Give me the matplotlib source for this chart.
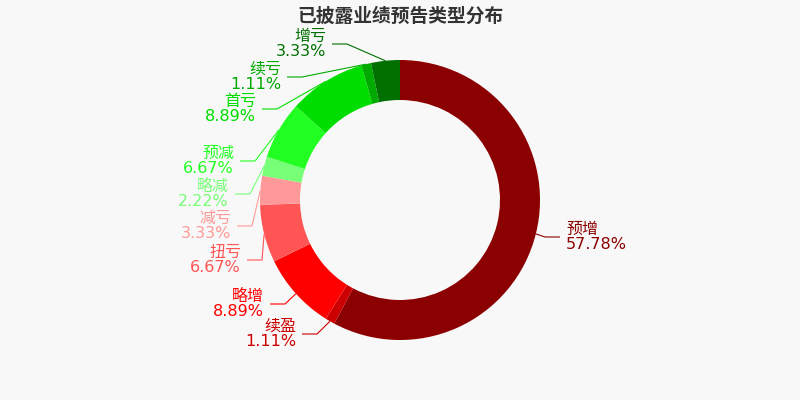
import matplotlib
matplotlib.use('Agg')
import matplotlib.pyplot as plt

# ---- data ----
categories = ['预增', '续盈', '略增', '扭亏', '减亏', '略减', '预减', '首亏', '续亏', '增亏']
counts = [52, 1, 8, 6, 3, 2, 6, 8, 1, 3]
colors = ['#8B0000', '#CC0000', '#FF0000', '#FF5555', '#FF9999',
          '#77FF77', '#22FF22', '#00DD00', '#00AA00', '#007000']
title = '已披露业绩预告类型分布'

# ---- layout (pixel space, y measured from top) ----
W, H = 800, 400
cx, cy_pix = 400, 200
R_out, ring_w = 140, 40
label_line_y = [237, 334, 304, 260, 226, 194, 161, 109, 77, 44]
label_elbow_x = [545, 317, 285, 262, 252, 250, 255, 277, 302, 347]
hlen, gap = 15, 6

fam = ['DejaVu Sans', 'Noto Sans CJK SC']

fig = plt.figure(figsize=(8, 4), dpi=100)
bg = '#f8f8f8'
fig.patch.set_facecolor(bg)
ax = fig.add_axes([0, 0, 1, 1])
ax.set_facecolor(bg)

cy = H - cy_pix
wedges, _ = ax.pie(counts, colors=colors, startangle=90, counterclock=False,
                   radius=R_out, center=(cx, cy),
                   wedgeprops=dict(width=ring_w, linewidth=0))
ax.set_xlim(0, W)
ax.set_ylim(0, H)
ax.set_aspect('equal')
ax.axis('off')

import numpy as np
total = sum(counts)
for i, w in enumerate(wedges):
    mid = np.deg2rad((w.theta1 + w.theta2) / 2.0)
    ax_x = cx + R_out * np.cos(mid)
    ax_y = cy + R_out * np.sin(mid)
    ey = H - label_line_y[i]
    ex = label_elbow_x[i]
    right = ex > cx
    hx = ex + hlen if right else ex - hlen
    col = colors[i]
    ax.plot([ax_x, ex, hx], [ax_y, ey, ey], color=col, lw=0.8,
            solid_capstyle='butt')
    pct = counts[i] / total * 100
    tx = hx + gap if right else hx - gap
    ax.text(tx, ey, f'{categories[i]}\n{pct:.2f}%', ha='left' if right else 'right',
            va='center', color=col, fontsize=11.5, family=fam, linespacing=1.05)

ax.text(W / 2, H - 16, title, ha='center', va='center', fontsize=13.5,
        fontweight='bold', color='#333333', family=['Noto Sans CJK SC', 'DejaVu Sans'])

fig.savefig('out.png', dpi=100, facecolor=bg)
